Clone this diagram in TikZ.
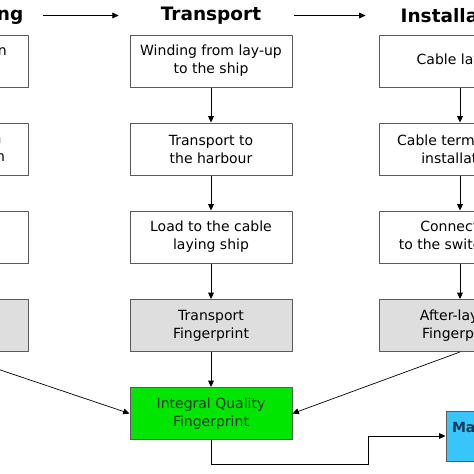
\documentclass[tikz,border=0pt]{standalone}
\usepackage{fontspec}
\setmainfont{DejaVu Sans}
\usepackage{xcolor}
\definecolor{frame}{HTML}{5A5A5A}
\definecolor{fpgray}{HTML}{DEDEDE}
\definecolor{iqgreen}{HTML}{00E600}
\definecolor{iqtext}{HTML}{103A10}
\definecolor{mtblue}{HTML}{38C6F8}
\definecolor{mttext}{HTML}{123A5C}
\usepackage{tikz}
\usetikzlibrary{arrows.meta,positioning,calc}
\tikzset{
  >={Triangle[length=2.2mm,width=2mm]},
  stage/.style  ={font=\fontsize{18.5}{22}\selectfont\bfseries,inner sep=0pt},
  task/.style   ={draw=frame,fill=white,line width=1pt,
                  font=\fontsize{14}{18}\selectfont,minimum height=52pt,
                  minimum width=162pt,align=center,inner sep=2pt},
  print/.style  ={task,fill=fpgray},
  flow/.style   ={->,draw=black,line width=0.7pt},
}
\begin{document}
\begin{tikzpicture}[x=1pt,y=-1pt]
\useasboundingbox (0,0) rectangle (474,474);
% stage headers
\node[stage] (hman) at (-53,15.5) {Manufacturing};
\node[stage] (htra) at (211,15.5) {Transport};
\node[stage] (hins) at (460,15.5) {Installation};
\draw[flow,shorten <=19pt,shorten >=42pt] (hman.east) -- (htra.west);
\draw[flow,shorten <=33pt,shorten >=35pt] (htra.east) -- (hins.west);
% manufacturing column
\node[task]  (m1) at (-53,61)    {Cable production\\in the factory};
\node[task]  (m2) at (-53,149)   {Final inspection\\of the full length};
\node[task]  (m3) at (-53,237)   {Storage in\\lay-up};
\node[print] (m4) at (-53,325.5) {Factory\\Fingerprint};
% transport column
\node[task]  (t1) at (211,61)    {Winding from lay-up\\to the ship};
\node[task]  (t2) at (211,149)   {Transport to\\the harbour};
\node[task]  (t3) at (211,237)   {Load to the cable\\laying ship};
\node[print] (t4) at (211,325.5) {Transport\\Fingerprint};
% installation column
\node[task]  (i1) at (460,61)    {Cable laying};
\node[task]  (i2) at (460,149)   {Cable termination\\installation};
\node[task]  (i3) at (460,237)   {Connection\\to the switchgear};
\node[print] (i4) at (460,325.5) {After-laying\\Fingerprint};
\foreach \c in {m,t,i}{
  \draw[flow] (\c1) -- (\c2);
  \draw[flow] (\c2) -- (\c3);
  \draw[flow] (\c3) -- (\c4);
}
% quality and maintenance
\node[task,fill=iqgreen,text=iqtext] (iq) at (211,413.5) {Integral Quality\\Fingerprint};
\node[task,fill=mtblue,text=mttext,font=\fontsize{14}{18}\selectfont\bfseries,
      minimum height=50pt,align=left,text width=150pt] (mt) at (527,436) {Maintenance\\~};
\draw[flow] (m4.south) -- (iq.west);
\draw[flow] (i4.south) -- (iq.east);
\draw[flow] (t4) -- (iq);
\draw[flow] (iq.south) -- ++(0,24) -| ($(mt.west)+(-77,0)$) -- (mt.west);
\end{tikzpicture}
\end{document}
